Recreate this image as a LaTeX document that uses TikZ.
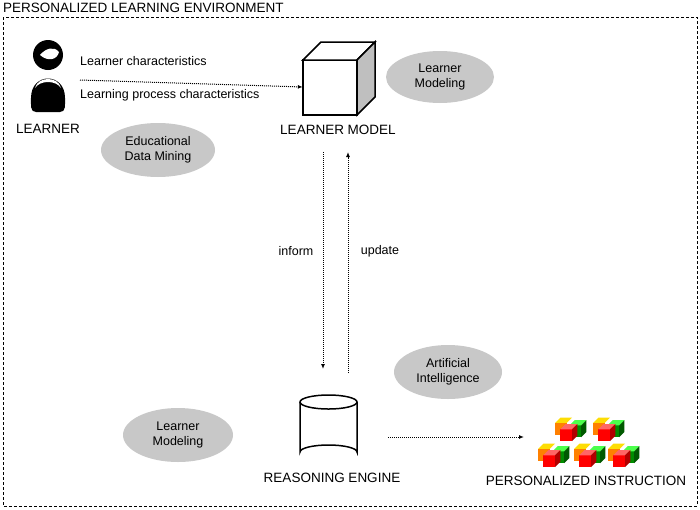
\documentclass[tikz,border=0pt]{standalone}
\usepackage{fontspec}
\setmainfont{Liberation Sans}
\usetikzlibrary{shapes.geometric,arrows.meta}
\definecolor{ellgray}{HTML}{C8C8C8}
\tikzset{
  lbl/.style={font=\fontsize{12.5}{15}\selectfont, inner sep=1pt},
  captxt/.style={font=\fontsize{13.5}{16}\selectfont, inner sep=1pt},
  ell/.style={ellipse, fill=ellgray, minimum width=108pt, minimum height=52pt, align=center, font=\fontsize{12.5}{15}\selectfont},
  flow/.style={densely dotted, line width=1pt, -{Latex[length=5pt,width=4pt]}},
  cb/.pic={
    \begin{scope}[scale=1.3]
    \def\s{9}
    \fill[orange] (-6,-4) rectangle ++(\s,\s);
    \fill[yellow!80!orange] (-6,-4) -- ++(4,-4) -- ++(\s,0) -- ++(-4,4) -- cycle;
    \fill[green!55!black] (5,-2) rectangle ++(\s,\s);
    \fill[green!70] (5,-2) -- ++(4,-4) -- ++(\s,0) -- ++(-4,4) -- cycle;
    \fill[green!35!black] (5+\s,-2) -- ++(4,-4) -- ++(0,\s) -- ++(-4,4) -- cycle;
    \fill[red] (-2,1) rectangle ++(\s,\s);
    \fill[red!60!white] (-2,1) -- ++(4,-4) -- ++(\s,0) -- ++(-4,4) -- cycle;
    \fill[red!70!black] (-2+\s,1) -- ++(4,-4) -- ++(0,\s) -- ++(-4,4) -- cycle;
    \end{scope}
  }
}
\begin{document}
\begin{tikzpicture}[x=1pt,y=-1pt]
\useasboundingbox (0,0) rectangle (700,509);
\fill[white] (0,0) rectangle (700,509);
\draw[densely dashed, line width=0.8pt] (3,17) rectangle (697,506);
\node[anchor=west, inner sep=0pt, font=\fontsize{13.5}{16}\selectfont] (title) at (3,8) {PERSONALIZED LEARNING ENVIRONMENT};

% learner icon
\fill (48,55) circle (15);
\fill[white] (40,55) .. controls (46,48) and (54,46) .. (59,52) .. controls (57,60) and (48,62) .. (40,55) -- cycle;
\fill (36,112) .. controls (30,112) and (31,105) .. (31,98) .. controls (31,72) and (65,72) .. (65,98) .. controls (65,105) and (66,112) .. (60,112) -- cycle;
\fill[white] (35,88) .. controls (38,76) and (58,76) .. (61,88) .. controls (56,80) and (40,80) .. (35,88) -- cycle;
\coordinate (learnerR) at (80,80);
\node[captxt] (learner) at (48,129) {LEARNER};
\node[lbl, anchor=west] (lc) at (79,61) {Learner characteristics};
\node[lbl, anchor=west] (lpc) at (79,95) {Learning process characteristics};

% cube
\draw[line width=1.5pt, fill=white] (303,60) rectangle (357,115);
\draw[line width=1.5pt, fill=white] (303,60) -- (321,42) -- (375,42) -- (357,60) -- cycle;
\draw[line width=1.5pt, fill=gray!50] (357,60) -- (375,42) -- (375,97) -- (357,115) -- cycle;
\node[inner sep=0pt, minimum width=54pt, minimum height=55pt] (lm) at (330,87) {};
\node[captxt] (lmlbl) at (338,130) {LEARNER MODEL};

\node[ell] (e1) at (440,77) {Learner\\Modeling};
\node[ell, minimum width=114pt, minimum height=54pt] (e2) at (158,150) {Educational\\Data Mining};
\node[ell, minimum height=54pt] (e3) at (448,372) {Artificial\\Intelligence};
\node[ell, minimum width=110pt, minimum height=54pt] (e4) at (178,435) {Learner\\Modeling};

% cylinder
\draw[line width=1.5pt, fill=white] (300,402) -- (300,452) arc[x radius=28.5, y radius=7, start angle=180, end angle=360] -- (357,402);
\draw[line width=1.5pt, fill=white] (328.5,402) ellipse [x radius=28.5, y radius=7];
\node[inner sep=0pt, minimum width=57pt, minimum height=60pt] (re) at (328.5,428) {};
\node[captxt] (relbl) at (332,478) {REASONING ENGINE};

\coordinate (d1) at (323,152); \coordinate (d2) at (323,369);
\coordinate (u1) at (348,373); \coordinate (u2) at (348,152);
\draw[flow] (learnerR) -- (lm.west);
\draw[flow] (d1) -- (d2);
\draw[flow] (u1) -- (u2);
\node[lbl] (inform) at (296,251) {inform};
\node[lbl] (update) at (380,251) {update};

% personalized instruction
\coordinate (pi) at (524,437);
\coordinate (reR) at (388,437);
\draw[flow] (reR) -- (pi);
\pic at (563,428) {cb};
\pic at (601,428) {cb};
\pic at (546,454) {cb};
\pic at (582,454) {cb};
\pic at (616,454) {cb};
\node[captxt] (pilbl) at (586,481) {PERSONALIZED INSTRUCTION};
\end{tikzpicture}
\end{document}
